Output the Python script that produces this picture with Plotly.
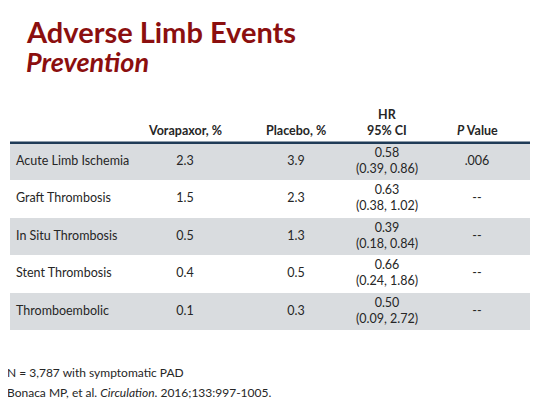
import plotly.graph_objects as go

# Table data
outcomes = ["Acute Limb Ischemia", "Graft Thrombosis", "In Situ Thrombosis",
            "Stent Thrombosis", "Thromboembolic"]
vorapaxor = [2.3, 1.5, 0.5, 0.4, 0.1]
placebo = [3.9, 2.3, 1.3, 0.5, 0.3]
hr = [0.58, 0.63, 0.39, 0.66, 0.50]
ci_low = [0.39, 0.38, 0.18, 0.24, 0.09]
ci_high = [0.86, 1.02, 0.84, 1.86, 2.72]
p_values = [".006", "--", "--", "--", "--"]

headers = ["Vorapaxor, %", "Placebo, %", "HR<br>95% CI", "<i>P</i> Value"]

# the page body has an 8px margin, so screen pixel = figure pixel + 8
OFF = 8
W, H = 540, 405

# layout in screen pixels
table_left, table_right = 10, 530
label_x = 16
col_x = [185, 296, 387, 477]
row_px = 37.5
first_center = 161.5

FONT = "Lato"
TEXT = "#262626"
RED = "#8b0f0f"
GRAY = "#d9dcdf"
NAVY = "#1f3b57"


def px(x):
    return x - OFF


def py(y):
    return 1 - (y - OFF) / H


rows = list(range(len(outcomes)))
row_fill = [GRAY if i % 2 == 0 else "white" for i in rows]

fig = go.Figure()

# row bands
fig.add_trace(go.Bar(
    y=rows, x=[table_right - table_left] * len(rows), base=px(table_left),
    orientation="h", width=1, marker=dict(color=row_fill, line=dict(width=0)),
    hoverinfo="skip", showlegend=False
))

# row labels
fig.add_trace(go.Scatter(
    x=[px(label_x)] * len(rows), y=rows, mode="text", text=outcomes,
    textposition="middle right", textfont=dict(family=FONT, size=12.5, color=TEXT),
    hoverinfo="skip", showlegend=False
))

columns = [
    [f"{v:.1f}" for v in vorapaxor],
    [f"{v:.1f}" for v in placebo],
    [f"{h:.2f}<br>({lo:.2f}, {hi:.2f})" for h, lo, hi in zip(hr, ci_low, ci_high)],
    p_values,
]
for cx, vals in zip(col_x, columns):
    fig.add_trace(go.Scatter(
        x=[px(cx)] * len(rows), y=rows, mode="text", text=vals,
        textposition="middle center", textfont=dict(family=FONT, size=12.5, color=TEXT),
        hoverinfo="skip", showlegend=False
    ))

annotations = []
for cx, h in zip(col_x, headers):
    annotations.append(dict(
        x=px(cx), y=-0.5, xref="x", yref="y", text=f"<b>{h}</b>", showarrow=False,
        xanchor="center", yanchor="bottom", yshift=3,
        font=dict(family=FONT, size=12.5, color=TEXT)
    ))

# title and footnotes
annotations += [
    dict(x=px(24) / W, y=py(32), xref="paper", yref="paper", showarrow=False,
         text="<b>Adverse Limb Events</b>", xanchor="left", yanchor="middle",
         font=dict(family=FONT, size=29, color=RED)),
    dict(x=px(24) / W, y=py(62), xref="paper", yref="paper", showarrow=False,
         text="<b><i>Prevention</i></b>", xanchor="left", yanchor="middle",
         font=dict(family=FONT, size=27, color=RED)),
    dict(x=px(5) / W, y=py(372), xref="paper", yref="paper", showarrow=False,
         text="N = 3,787 with symptomatic PAD", xanchor="left", yanchor="middle",
         font=dict(family=FONT, size=12, color=TEXT)),
    dict(x=px(5) / W, y=py(392), xref="paper", yref="paper", showarrow=False,
         text="Bonaca MP, et al. <i>Circulation</i>. 2016;133:997-1005.",
         xanchor="left", yanchor="middle",
         font=dict(family=FONT, size=12, color=TEXT)),
]

c0 = first_center - OFF
fig.update_layout(
    width=W, height=H,
    margin=dict(l=0, r=0, t=0, b=0),
    paper_bgcolor="white", plot_bgcolor="white",
    xaxis=dict(range=[0, W], visible=False, fixedrange=True),
    yaxis=dict(range=[(H - c0) / row_px, -c0 / row_px],
               visible=False, fixedrange=True),
    bargap=0,
    annotations=annotations,
    shapes=[dict(type="line", xref="x", yref="y", x0=px(table_left), x1=px(table_right),
                 y0=-0.5, y1=-0.5, line=dict(color=NAVY, width=2.5))],
)

fig.write_html("out.html")
